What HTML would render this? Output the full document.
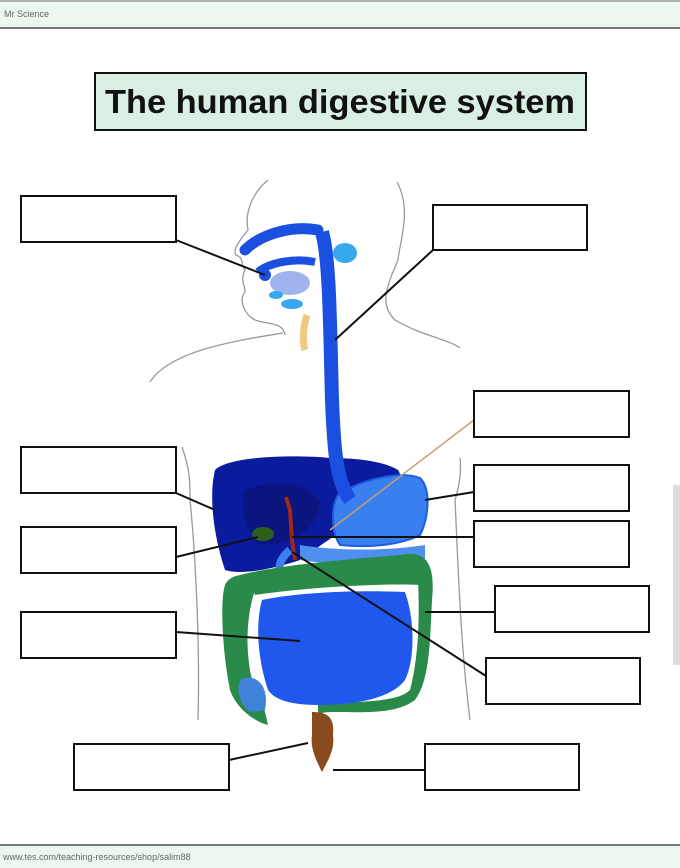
<!DOCTYPE html>
<html><head><meta charset="utf-8"><style>
html,body{margin:0;padding:0;background:#fff;}
svg{display:block}
</style></head><body>
<svg width="680" height="868" viewBox="0 0 680 868" xmlns="http://www.w3.org/2000/svg">
<rect x="0" y="0" width="680" height="868" fill="#fff"/>
<!-- header -->
<rect x="0" y="0" width="680" height="28" fill="#ecf7ef"/>
<line x1="0" y1="1" x2="680" y2="1" stroke="#999" stroke-width="1.5"/>
<line x1="0" y1="28" x2="680" y2="28" stroke="#777" stroke-width="2"/>
<text x="4" y="17" font-family="Liberation Sans, sans-serif" font-size="9" fill="#666">Mr Science</text>
<!-- footer -->
<rect x="0" y="845" width="680" height="23" fill="#ecf7ef"/>
<line x1="0" y1="845" x2="680" y2="845" stroke="#777" stroke-width="2"/>
<text x="3" y="860" font-family="Liberation Sans, sans-serif" font-size="9" fill="#666">www.tes.com/teaching-resources/shop/salim88</text>
<rect x="673" y="485" width="7" height="180" fill="#ddd"/>
<!-- title -->
<rect x="95" y="73" width="491" height="57" fill="#d9efe3" stroke="#111" stroke-width="2"/>
<text x="340" y="113" text-anchor="middle" font-family="Liberation Sans, sans-serif" font-size="33" font-weight="bold" fill="#111" textLength="470" lengthAdjust="spacingAndGlyphs">The human digestive system</text>

<!-- body outlines -->
<g fill="none" stroke="#999" stroke-width="1.3">
<path d="M268,180 C250,195 245,215 248,230 C240,240 232,250 236,255 C245,258 240,265 245,270 C240,280 245,285 245,292 C238,300 245,315 255,320 C270,325 283,322 285,335"/>
<path d="M283,333 C240,340 170,350 150,382"/>
<path d="M397,182 C412,210 400,240 398,260 C385,290 380,305 395,320 C420,335 450,340 460,348"/>
<path d="M182,447 C190,470 190,480 190,500 C196,560 200,650 198,720"/>
<path d="M460,458 C462,475 458,490 455,500 C458,560 460,640 470,720"/>
</g>

<!-- liver -->
<path d="M215,470 C230,455 300,455 330,458 C360,458 385,462 398,470 C405,480 395,490 380,500 C360,520 320,545 300,560 C270,570 240,575 225,570 C215,540 208,500 215,470 Z" fill="#0a1b9e"/>
<path d="M245,490 C270,480 300,480 320,500 C320,530 290,545 260,545 C245,530 240,505 245,490Z" fill="#0b1580"/>
<path d="M286,497 L290,510 L292,540 L295,560" stroke="#a02818" stroke-width="4" fill="none"/>
<ellipse cx="263" cy="534" rx="11" ry="7" fill="#2e5e1e"/>
<!-- stomach -->
<path d="M338,495 C360,480 400,470 420,478 C432,490 428,520 420,535 C400,545 370,548 340,545 C330,530 332,505 338,495Z" fill="#3a7ff0" stroke="#1e5ce0" stroke-width="2"/>
<path d="M300,545 C330,550 380,552 425,545 L425,560 C380,565 330,565 300,560Z" fill="#4f8ff0"/>
<path d="M290,550 C278,560 276,572 285,580" stroke="#3a7ff0" stroke-width="8" fill="none"/>
<!-- esophagus & mouth -->
<path d="M245,250 C260,235 290,225 318,230" stroke="#1b4fe0" stroke-width="11" fill="none" stroke-linecap="round"/>
<path d="M258,272 C270,262 295,258 315,262" stroke="#1b4fe0" stroke-width="8" fill="none"/>
<path d="M322,232 C330,260 330,330 332,400 C334,450 336,480 350,500" stroke="#1b4fe0" stroke-width="14" fill="none"/>
<ellipse cx="290" cy="283" rx="20" ry="12" fill="#9fb4ee"/>
<ellipse cx="345" cy="253" rx="12" ry="10" fill="#38a8ee"/>
<ellipse cx="292" cy="304" rx="11" ry="5" fill="#38a8ee"/>
<ellipse cx="276" cy="295" rx="7" ry="4" fill="#38a8ee"/>
<circle cx="265" cy="275" r="6" fill="#1b4fe0"/>
<path d="M307,315 C302,330 303,345 305,350" stroke="#f0c880" stroke-width="7" fill="none"/>
<!-- large intestine -->
<path d="M240,575 C280,565 340,560 400,555 C430,548 435,570 432,600 C430,640 430,680 415,700 C395,715 360,712 340,712 C330,712 320,712 318,715 L318,705 C345,700 395,705 410,690 C418,660 420,620 418,580 C380,575 300,580 255,590 C245,620 245,660 255,690 C262,700 265,710 268,725 C250,720 235,705 230,690 C222,650 220,600 225,585 C228,578 235,576 240,575Z" fill="#2a8a4a"/>
<path d="M250,582 C300,575 370,570 420,570 L425,585 L420,585 C380,583 300,588 255,595 Z" fill="#2a8a4a"/>
<!-- small intestine -->
<path d="M262,600 C300,592 360,590 405,592 C415,620 415,660 405,680 C390,700 350,705 320,705 C290,705 275,700 268,690 C258,660 255,625 262,600Z" fill="#2058ee"/>
<path d="M240,680 C255,672 270,685 265,710 L250,712 C240,705 236,690 240,680Z" fill="#3f84d8"/>
<!-- rectum -->
<path d="M312,712 C325,712 335,715 333,735 C335,750 328,760 322,772 C316,760 310,748 312,735 Z" fill="#8a4a20"/>

<!-- connector lines -->
<g stroke="#111" stroke-width="2" fill="none">
<line x1="176" y1="240" x2="265" y2="275"/>
<line x1="433" y1="250" x2="335" y2="340"/>
<line x1="176" y1="493" x2="215" y2="510"/>
<line x1="474" y1="492" x2="425" y2="500"/>
<line x1="176" y1="557" x2="258" y2="537"/>
<line x1="474" y1="537" x2="292" y2="537"/>
<line x1="495" y1="612" x2="425" y2="612"/>
<line x1="176" y1="632" x2="300" y2="641"/>
<line x1="486" y1="676" x2="292" y2="552"/>
<line x1="229" y1="760" x2="308" y2="743"/>
<line x1="425" y1="770" x2="333" y2="770"/>
</g>
<line x1="474" y1="420" x2="330" y2="530" stroke="#c8a070" stroke-width="1.5"/>

<!-- label boxes -->
<g fill="#fff" stroke="#111" stroke-width="2">
<rect x="21" y="196" width="155" height="46"/>
<rect x="433" y="205" width="154" height="45"/>
<rect x="474" y="391" width="155" height="46"/>
<rect x="21" y="447" width="155" height="46"/>
<rect x="474" y="465" width="155" height="46"/>
<rect x="21" y="527" width="155" height="46"/>
<rect x="474" y="521" width="155" height="46"/>
<rect x="495" y="586" width="154" height="46"/>
<rect x="21" y="612" width="155" height="46"/>
<rect x="486" y="658" width="154" height="46"/>
<rect x="74" y="744" width="155" height="46"/>
<rect x="425" y="744" width="154" height="46"/>
</g>
</svg>
</body></html>
